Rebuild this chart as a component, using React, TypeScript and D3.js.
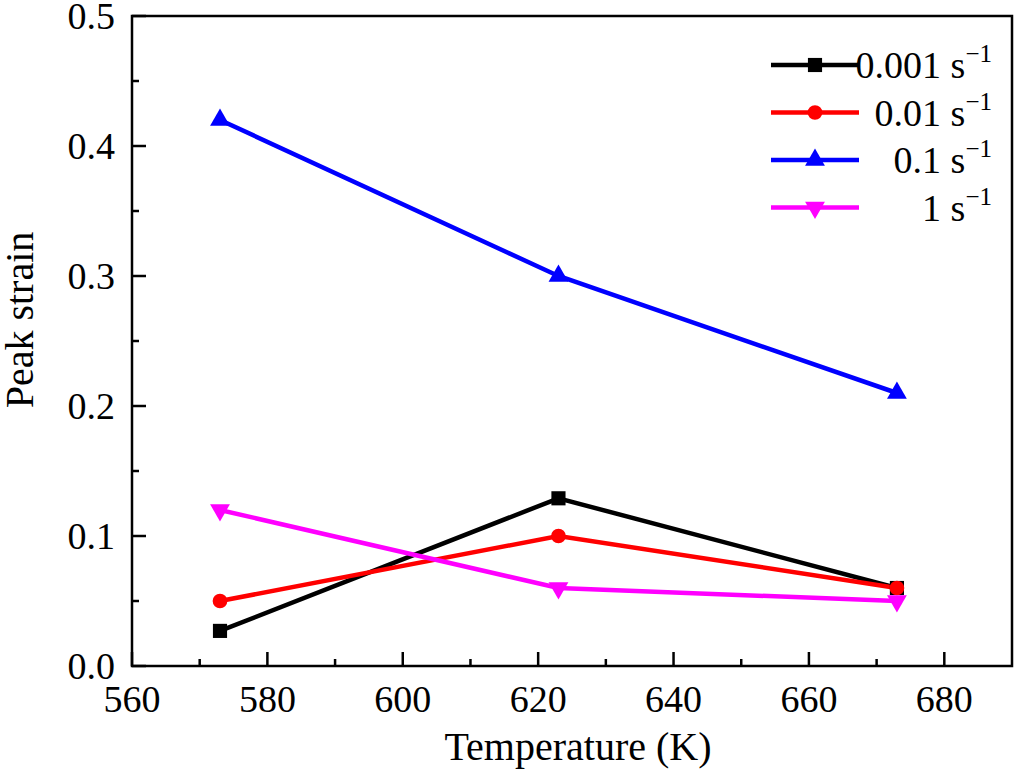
import * as d3 from 'd3';

const temperatures = [573, 623, 673];
const rate0001 = [0.027, 0.129, 0.06];
const rate001 = [0.05, 0.1, 0.06];
const rate01 = [0.42, 0.3, 0.21];
const rate1 = [0.12, 0.06, 0.05];

const xMajorTicks = [560, 580, 600, 620, 640, 660, 680];
const xMinorTicks = [570, 590, 610, 630, 650, 670];
const yMajorTicks = [0, 0.1, 0.2, 0.3, 0.4, 0.5];
const yMinorTicks = [0.05, 0.15, 0.25, 0.35, 0.45];

const seriesNames = ['0.001', '0.01', '0.1', '1'];

const W = 1016;
const H = 774;
const left = 132;
const right = 1012;
const top = 16;
const bottom = 666;
const font = "'Liberation Serif'";

const x = d3.scaleLinear().domain([560, 690]).range([left, right]);
const y = d3.scaleLinear().domain([0, 0.5]).range([bottom, top]);

type Sym = 'square' | 'circle' | 'triUp' | 'triDown';

interface Series {
  name: string;
  values: number[];
  color: string;
  symbol: Sym;
}

const series: Series[] = [
  { name: seriesNames[0], values: rate0001, color: '#000000', symbol: 'square' },
  { name: seriesNames[1], values: rate001, color: '#ff0000', symbol: 'circle' },
  { name: seriesNames[2], values: rate01, color: '#0000ff', symbol: 'triUp' },
  { name: seriesNames[3], values: rate1, color: '#ff00ff', symbol: 'triDown' },
];

const line = d3
  .line<number>()
  .x((_, i) => x(temperatures[i]))
  .y((d) => y(d));

function Marker({ s, cx, cy }: { s: Series; cx: number; cy: number }) {
  let d: string;
  let rot = 0;
  if (s.symbol === 'square') d = d3.symbol(d3.symbolSquare, 200)() as string;
  else if (s.symbol === 'circle') d = d3.symbol(d3.symbolCircle, 170)() as string;
  else {
    d = d3.symbol(d3.symbolTriangle, 170)() as string;
    if (s.symbol === 'triDown') rot = 180;
  }
  return <path d={d} transform={`translate(${cx},${cy}) rotate(${rot})`} fill={s.color} />;
}

export default function App() {
  return (
    <div style={{ position: 'absolute', left: 0, top: 0 }}>
      <svg width={W} height={H} style={{ display: 'block' }}>
        <rect width={W} height={H} fill="#fff" />

        {/* data lines */}
        {series.map((s) => (
          <path key={s.name} d={line(s.values) as string} fill="none" stroke={s.color} strokeWidth={4.5} />
        ))}
        {series.map((s) =>
          s.values.map((v, i) => <Marker key={s.name + i} s={s} cx={x(temperatures[i])} cy={y(v)} />)
        )}

        {/* ticks, pointing inward */}
        {xMajorTicks.map((t) => (
          <g key={'xm' + t}>
            <line x1={x(t)} x2={x(t)} y1={bottom} y2={bottom - 14} stroke="#000" strokeWidth={2.5} />
            <text x={x(t)} y={bottom + 46} textAnchor="middle" fontSize={38} fontFamily={font}>
              {d3.format('d')(t)}
            </text>
          </g>
        ))}
        {xMinorTicks.map((t) => (
          <line key={'xn' + t} x1={x(t)} x2={x(t)} y1={bottom} y2={bottom - 7} stroke="#000" strokeWidth={2.5} />
        ))}
        {yMajorTicks.map((t) => (
          <g key={'ym' + t}>
            <line x1={left} x2={left + 14} y1={y(t)} y2={y(t)} stroke="#000" strokeWidth={2.5} />
            <text x={left - 17} y={y(t) + 13} textAnchor="end" fontSize={38} fontFamily={font}>
              {d3.format('.1f')(t)}
            </text>
          </g>
        ))}
        {yMinorTicks.map((t) => (
          <line key={'yn' + t} x1={left} x2={left + 7} y1={y(t)} y2={y(t)} stroke="#000" strokeWidth={2.5} />
        ))}

        {/* frame */}
        <rect x={left} y={top} width={right - left} height={bottom - top} fill="none" stroke="#000" strokeWidth={2.5} />

        {/* axis titles */}
        <text x={578} y={760} textAnchor="middle" fontSize={40} fontFamily={font}>
          Temperature (K)
        </text>
        <text transform="translate(33,320) rotate(-90)" textAnchor="middle" fontSize={40} fontFamily={font}>
          Peak strain
        </text>

        {/* legend */}
        {series.map((s, i) => {
          const ly = 65 + i * 47.5;
          return (
            <g key={'lg' + s.name}>
              <line x1={771} x2={859} y1={ly} y2={ly} stroke={s.color} strokeWidth={4.5} />
              <Marker s={s} cx={815} cy={ly} />
              <text x={992} y={ly + 13} textAnchor="end" fontSize={38} fill="#000" fontFamily={font}>
                <tspan>{`${s.name} s`}</tspan>
                <tspan dy={-16} fontSize={25}>
                  {'\u22121'}
                </tspan>
              </text>
            </g>
          );
        })}
      </svg>
    </div>
  );
}
